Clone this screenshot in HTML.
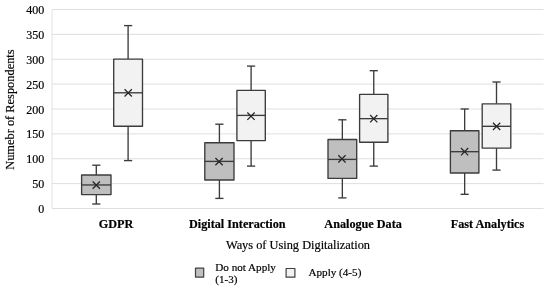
<!DOCTYPE html>
<html><head><meta charset="utf-8"><title>Chart</title>
<style>html,body{margin:0;padding:0;background:#fff}body{width:550px;height:290px;position:relative;overflow:hidden}</style>
</head><body>
<svg width="550" height="290" viewBox="0 0 550 290" style="position:absolute;left:0;top:0">
<line x1="52" x2="543.5" y1="208.50" y2="208.50" stroke="#dfdfdf" stroke-width="1"/>
<line x1="52" x2="543.5" y1="183.62" y2="183.62" stroke="#dfdfdf" stroke-width="1"/>
<line x1="52" x2="543.5" y1="158.75" y2="158.75" stroke="#dfdfdf" stroke-width="1"/>
<line x1="52" x2="543.5" y1="133.88" y2="133.88" stroke="#dfdfdf" stroke-width="1"/>
<line x1="52" x2="543.5" y1="109.00" y2="109.00" stroke="#dfdfdf" stroke-width="1"/>
<line x1="52" x2="543.5" y1="84.12" y2="84.12" stroke="#dfdfdf" stroke-width="1"/>
<line x1="52" x2="543.5" y1="59.25" y2="59.25" stroke="#dfdfdf" stroke-width="1"/>
<line x1="52" x2="543.5" y1="34.38" y2="34.38" stroke="#dfdfdf" stroke-width="1"/>
<line x1="52" x2="543.5" y1="9.50" y2="9.50" stroke="#dfdfdf" stroke-width="1"/>
<line x1="52" x2="52" y1="9.50" y2="208.50" stroke="#e2e2e2" stroke-width="1"/>
<line x1="96.30" x2="96.30" y1="165.20" y2="175.00" stroke="#3c3c3c" stroke-width="1.35" stroke-linejoin="round"/>
<line x1="96.30" x2="96.30" y1="194.60" y2="204.00" stroke="#3c3c3c" stroke-width="1.35" stroke-linejoin="round"/>
<line x1="92.20" x2="100.40" y1="165.20" y2="165.20" stroke="#3c3c3c" stroke-width="1.35" stroke-linejoin="round"/>
<line x1="92.20" x2="100.40" y1="204.00" y2="204.00" stroke="#3c3c3c" stroke-width="1.35" stroke-linejoin="round"/>
<rect x="81.60" y="175.00" width="29.40" height="19.60" fill="#bfbfbf" stroke="#3c3c3c" stroke-width="1.35" stroke-linejoin="round"/>
<line x1="81.60" x2="111.00" y1="184.95" y2="184.95" stroke="#3c3c3c" stroke-width="1.35" stroke-linejoin="round"/>
<path d="M92.65 181.45L99.95 188.75M92.65 188.75L99.95 181.45" fill="none" stroke="#262626" stroke-width="1.25"/>
<line x1="128.10" x2="128.10" y1="25.60" y2="59.10" stroke="#3c3c3c" stroke-width="1.35" stroke-linejoin="round"/>
<line x1="128.10" x2="128.10" y1="126.30" y2="160.60" stroke="#3c3c3c" stroke-width="1.35" stroke-linejoin="round"/>
<line x1="124.00" x2="132.20" y1="25.60" y2="25.60" stroke="#3c3c3c" stroke-width="1.35" stroke-linejoin="round"/>
<line x1="124.00" x2="132.20" y1="160.60" y2="160.60" stroke="#3c3c3c" stroke-width="1.35" stroke-linejoin="round"/>
<rect x="113.70" y="59.10" width="28.80" height="67.20" fill="#f2f2f2" stroke="#3c3c3c" stroke-width="1.35" stroke-linejoin="round"/>
<line x1="113.70" x2="142.50" y1="92.80" y2="92.80" stroke="#3c3c3c" stroke-width="1.35" stroke-linejoin="round"/>
<path d="M124.55 89.25L131.85 96.55M124.55 96.55L131.85 89.25" fill="none" stroke="#262626" stroke-width="1.25"/>
<line x1="219.40" x2="219.40" y1="124.20" y2="142.70" stroke="#3c3c3c" stroke-width="1.35" stroke-linejoin="round"/>
<line x1="219.40" x2="219.40" y1="180.00" y2="198.40" stroke="#3c3c3c" stroke-width="1.35" stroke-linejoin="round"/>
<line x1="215.30" x2="223.50" y1="124.20" y2="124.20" stroke="#3c3c3c" stroke-width="1.35" stroke-linejoin="round"/>
<line x1="215.30" x2="223.50" y1="198.40" y2="198.40" stroke="#3c3c3c" stroke-width="1.35" stroke-linejoin="round"/>
<rect x="204.80" y="142.70" width="29.20" height="37.30" fill="#bfbfbf" stroke="#3c3c3c" stroke-width="1.35" stroke-linejoin="round"/>
<line x1="204.80" x2="234.00" y1="161.40" y2="161.40" stroke="#3c3c3c" stroke-width="1.35" stroke-linejoin="round"/>
<path d="M215.40 158.00L222.70 165.30M215.40 165.30L222.70 158.00" fill="none" stroke="#262626" stroke-width="1.25"/>
<line x1="251.10" x2="251.10" y1="66.10" y2="90.30" stroke="#3c3c3c" stroke-width="1.35" stroke-linejoin="round"/>
<line x1="251.10" x2="251.10" y1="140.60" y2="166.10" stroke="#3c3c3c" stroke-width="1.35" stroke-linejoin="round"/>
<line x1="247.00" x2="255.20" y1="66.10" y2="66.10" stroke="#3c3c3c" stroke-width="1.35" stroke-linejoin="round"/>
<line x1="247.00" x2="255.20" y1="166.10" y2="166.10" stroke="#3c3c3c" stroke-width="1.35" stroke-linejoin="round"/>
<rect x="236.90" y="90.30" width="28.40" height="50.30" fill="#f2f2f2" stroke="#3c3c3c" stroke-width="1.35" stroke-linejoin="round"/>
<line x1="236.90" x2="265.30" y1="115.40" y2="115.40" stroke="#3c3c3c" stroke-width="1.35" stroke-linejoin="round"/>
<path d="M247.35 112.55L254.65 119.85M247.35 119.85L254.65 112.55" fill="none" stroke="#262626" stroke-width="1.25"/>
<line x1="342.35" x2="342.35" y1="119.80" y2="139.50" stroke="#3c3c3c" stroke-width="1.35" stroke-linejoin="round"/>
<line x1="342.35" x2="342.35" y1="178.40" y2="197.90" stroke="#3c3c3c" stroke-width="1.35" stroke-linejoin="round"/>
<line x1="338.25" x2="346.45" y1="119.80" y2="119.80" stroke="#3c3c3c" stroke-width="1.35" stroke-linejoin="round"/>
<line x1="338.25" x2="346.45" y1="197.90" y2="197.90" stroke="#3c3c3c" stroke-width="1.35" stroke-linejoin="round"/>
<rect x="328.00" y="139.50" width="28.70" height="38.90" fill="#bfbfbf" stroke="#3c3c3c" stroke-width="1.35" stroke-linejoin="round"/>
<line x1="328.00" x2="356.70" y1="159.40" y2="159.40" stroke="#3c3c3c" stroke-width="1.35" stroke-linejoin="round"/>
<path d="M338.30 155.25L345.60 162.55M338.30 162.55L345.60 155.25" fill="none" stroke="#262626" stroke-width="1.25"/>
<line x1="373.75" x2="373.75" y1="70.70" y2="94.30" stroke="#3c3c3c" stroke-width="1.35" stroke-linejoin="round"/>
<line x1="373.75" x2="373.75" y1="142.20" y2="166.10" stroke="#3c3c3c" stroke-width="1.35" stroke-linejoin="round"/>
<line x1="369.65" x2="377.85" y1="70.70" y2="70.70" stroke="#3c3c3c" stroke-width="1.35" stroke-linejoin="round"/>
<line x1="369.65" x2="377.85" y1="166.10" y2="166.10" stroke="#3c3c3c" stroke-width="1.35" stroke-linejoin="round"/>
<rect x="359.60" y="94.30" width="28.30" height="47.90" fill="#f2f2f2" stroke="#3c3c3c" stroke-width="1.35" stroke-linejoin="round"/>
<line x1="359.60" x2="387.90" y1="118.65" y2="118.65" stroke="#3c3c3c" stroke-width="1.35" stroke-linejoin="round"/>
<path d="M370.10 115.05L377.40 122.35M370.10 122.35L377.40 115.05" fill="none" stroke="#262626" stroke-width="1.25"/>
<line x1="464.65" x2="464.65" y1="109.00" y2="130.70" stroke="#3c3c3c" stroke-width="1.35" stroke-linejoin="round"/>
<line x1="464.65" x2="464.65" y1="173.00" y2="194.30" stroke="#3c3c3c" stroke-width="1.35" stroke-linejoin="round"/>
<line x1="460.55" x2="468.75" y1="109.00" y2="109.00" stroke="#3c3c3c" stroke-width="1.35" stroke-linejoin="round"/>
<line x1="460.55" x2="468.75" y1="194.30" y2="194.30" stroke="#3c3c3c" stroke-width="1.35" stroke-linejoin="round"/>
<rect x="450.40" y="130.70" width="28.50" height="42.30" fill="#bfbfbf" stroke="#3c3c3c" stroke-width="1.35" stroke-linejoin="round"/>
<line x1="450.40" x2="478.90" y1="151.70" y2="151.70" stroke="#3c3c3c" stroke-width="1.35" stroke-linejoin="round"/>
<path d="M460.95 148.05L468.25 155.35M460.95 155.35L468.25 148.05" fill="none" stroke="#262626" stroke-width="1.25"/>
<line x1="496.50" x2="496.50" y1="82.00" y2="103.80" stroke="#3c3c3c" stroke-width="1.35" stroke-linejoin="round"/>
<line x1="496.50" x2="496.50" y1="148.10" y2="170.10" stroke="#3c3c3c" stroke-width="1.35" stroke-linejoin="round"/>
<line x1="492.40" x2="500.60" y1="82.00" y2="82.00" stroke="#3c3c3c" stroke-width="1.35" stroke-linejoin="round"/>
<line x1="492.40" x2="500.60" y1="170.10" y2="170.10" stroke="#3c3c3c" stroke-width="1.35" stroke-linejoin="round"/>
<rect x="482.20" y="103.80" width="28.60" height="44.30" fill="#f2f2f2" stroke="#3c3c3c" stroke-width="1.35" stroke-linejoin="round"/>
<line x1="482.20" x2="510.80" y1="126.30" y2="126.30" stroke="#3c3c3c" stroke-width="1.35" stroke-linejoin="round"/>
<path d="M492.95 122.75L500.25 130.05M492.95 130.05L500.25 122.75" fill="none" stroke="#262626" stroke-width="1.25"/>
<rect x="195.5" y="268.2" width="8.2" height="8.9" fill="#bfbfbf" stroke="#404040" stroke-width="1.2" stroke-linejoin="round"/>
<rect x="286.1" y="268.5" width="8.8" height="8.7" fill="#f2f2f2" stroke="#404040" stroke-width="1.2" stroke-linejoin="round"/>
<text x="44.3" y="213.10" text-anchor="end" font-size="12" font-family="Liberation Serif, Times New Roman, serif" fill="#000" stroke="#000" stroke-width="0.18">0</text>
<text x="44.3" y="188.22" text-anchor="end" font-size="12" font-family="Liberation Serif, Times New Roman, serif" fill="#000" stroke="#000" stroke-width="0.18">50</text>
<text x="44.3" y="163.35" text-anchor="end" font-size="12" font-family="Liberation Serif, Times New Roman, serif" fill="#000" stroke="#000" stroke-width="0.18">100</text>
<text x="44.3" y="138.47" text-anchor="end" font-size="12" font-family="Liberation Serif, Times New Roman, serif" fill="#000" stroke="#000" stroke-width="0.18">150</text>
<text x="44.3" y="113.60" text-anchor="end" font-size="12" font-family="Liberation Serif, Times New Roman, serif" fill="#000" stroke="#000" stroke-width="0.18">200</text>
<text x="44.3" y="88.72" text-anchor="end" font-size="12" font-family="Liberation Serif, Times New Roman, serif" fill="#000" stroke="#000" stroke-width="0.18">250</text>
<text x="44.3" y="63.85" text-anchor="end" font-size="12" font-family="Liberation Serif, Times New Roman, serif" fill="#000" stroke="#000" stroke-width="0.18">300</text>
<text x="44.3" y="38.98" text-anchor="end" font-size="12" font-family="Liberation Serif, Times New Roman, serif" fill="#000" stroke="#000" stroke-width="0.18">350</text>
<text x="44.3" y="14.10" text-anchor="end" font-size="12" font-family="Liberation Serif, Times New Roman, serif" fill="#000" stroke="#000" stroke-width="0.18">400</text>
<text transform="translate(13.8 109.6) rotate(-90)" text-anchor="middle" font-size="12.4" font-family="Liberation Serif, Times New Roman, serif" fill="#000" stroke="#000" stroke-width="0.18">Numebr of Respondents</text>
<text x="116.1" y="228" text-anchor="middle" font-size="12.2" font-weight="bold" font-family="Liberation Serif, Times New Roman, serif" fill="#000" stroke="#000" stroke-width="0.18">GDPR</text>
<text x="237.3" y="228" text-anchor="middle" font-size="12.2" font-weight="bold" font-family="Liberation Serif, Times New Roman, serif" fill="#000" stroke="#000" stroke-width="0.18">Digital Interaction</text>
<text x="363.1" y="228" text-anchor="middle" font-size="12.2" font-weight="bold" font-family="Liberation Serif, Times New Roman, serif" fill="#000" stroke="#000" stroke-width="0.18">Analogue Data</text>
<text x="487.5" y="228" text-anchor="middle" font-size="12.2" font-weight="bold" font-family="Liberation Serif, Times New Roman, serif" fill="#000" stroke="#000" stroke-width="0.18">Fast Analytics</text>
<text x="298" y="249.3" text-anchor="middle" font-size="12.35" font-family="Liberation Serif, Times New Roman, serif" fill="#000" stroke="#000" stroke-width="0.18">Ways of Using Digitalization</text>
<text x="215.3" y="271" font-size="11.13" font-family="Liberation Serif, Times New Roman, serif" fill="#000" stroke="#000" stroke-width="0.18">Do not Apply</text>
<text x="215.3" y="283.2" font-size="11.13" font-family="Liberation Serif, Times New Roman, serif" fill="#000" stroke="#000" stroke-width="0.18">(1-3)</text>
<text x="308.5" y="276.1" font-size="11.13" font-family="Liberation Serif, Times New Roman, serif" fill="#000" stroke="#000" stroke-width="0.18">Apply (4-5)</text>
</svg>
</body></html>
